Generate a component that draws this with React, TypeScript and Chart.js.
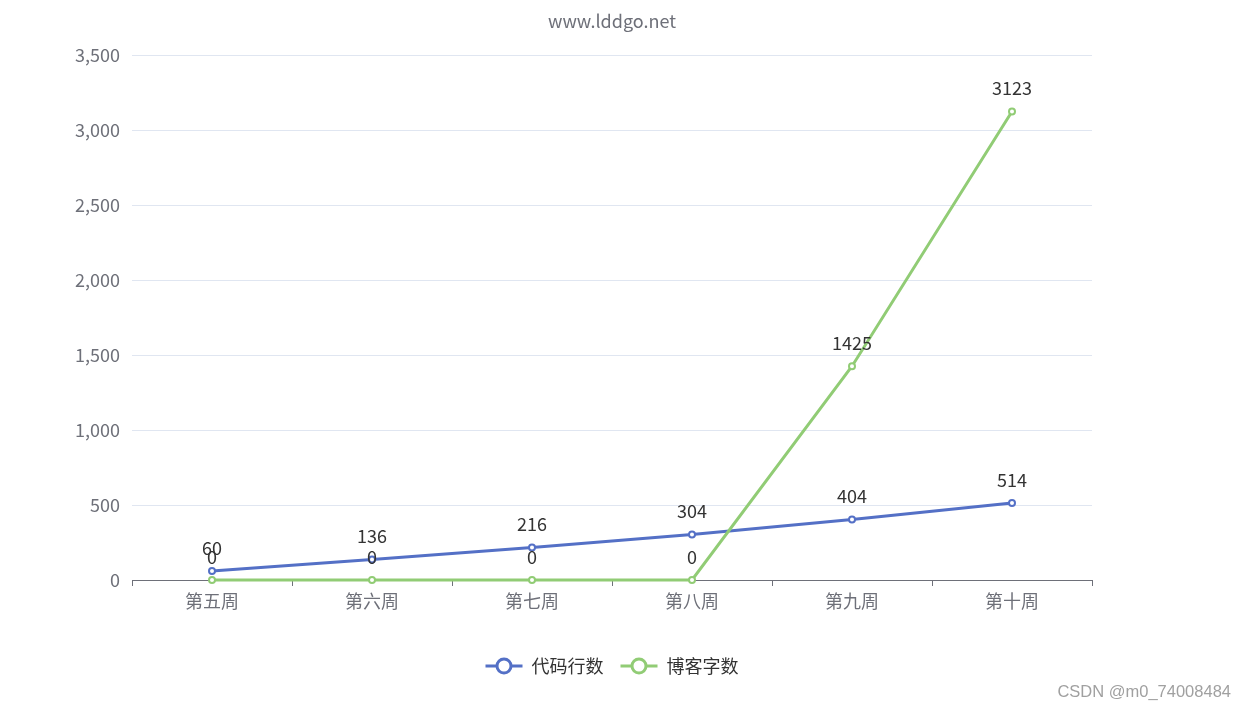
import React, { useEffect, useRef } from 'react';
import { Chart, registerables, Plugin } from 'chart.js';

Chart.register(...registerables);

const weeks = ['第五周', '第六周', '第七周', '第八周', '第九周', '第十周'];
const codeLines = [60, 136, 216, 304, 404, 514];
const blogWords = [0, 0, 0, 0, 1425, 3123];
const yTicks = [0, 500, 1000, 1500, 2000, 2500, 3000, 3500];
const seriesNames = ['代码行数', '博客字数'];
const seriesColors = ['#5470c6', '#91cc75'];
const titleText = 'www.lddgo.net';
const watermarkText = 'CSDN @m0_74008484';

const FONT = "'Noto Sans CJK SC', 'Noto Sans', sans-serif";

// title, point labels, legend and watermark drawn by hand to match the echarts look
const decorPlugin: Plugin<'line'> = {
  id: 'decor',
  afterDatasetsDraw(chart) {
    const ctx = chart.ctx;
    const area = chart.chartArea;
    const midX = (area.left + area.right) / 2;
    ctx.save();

    // value labels above points
    ctx.font = `18px ${FONT}`;
    ctx.fillStyle = '#333';
    ctx.textAlign = 'center';
    ctx.textBaseline = 'middle';
    chart.data.datasets.forEach((ds, i) => {
      const meta = chart.getDatasetMeta(i);
      meta.data.forEach((pt, j) => {
        ctx.fillText(String(ds.data[j]), pt.x, pt.y - 23);
      });
    });

    // title
    ctx.fillStyle = '#6e7079';
    ctx.fillText(titleText, midX, 21);

    // legend
    const iconW = 37;
    const textGap = 9;
    const itemGap = 17;
    const widths = seriesNames.map(n => iconW + textGap + ctx.measureText(n).width);
    const total = widths.reduce((a, b) => a + b, 0) + itemGap * (widths.length - 1);
    let x = midX - total / 2;
    const ly = 666;
    seriesNames.forEach((name, i) => {
      ctx.strokeStyle = seriesColors[i];
      ctx.lineWidth = 3;
      ctx.beginPath();
      ctx.moveTo(x, ly);
      ctx.lineTo(x + iconW, ly);
      ctx.stroke();
      ctx.beginPath();
      ctx.arc(x + iconW / 2, ly, 7, 0, Math.PI * 2);
      ctx.fillStyle = '#fff';
      ctx.fill();
      ctx.stroke();
      ctx.fillStyle = '#333';
      ctx.textAlign = 'left';
      ctx.fillText(name, x + iconW + textGap, ly);
      x += widths[i] + itemGap;
    });

    // watermark
    ctx.font = "16.5px 'Liberation Sans', Arial, sans-serif";
    ctx.fillStyle = '#a0a0a0';
    ctx.textAlign = 'right';
    ctx.fillText(watermarkText, 1231, 692);
    ctx.restore();
  },
};

const App: React.FC = () => {
  const canvasRef = useRef<HTMLCanvasElement | null>(null);

  useEffect(() => {
    if (!canvasRef.current) return;
    const chart = new Chart(canvasRef.current, {
      type: 'line',
      data: {
        labels: weeks,
        datasets: [codeLines, blogWords].map((values, i) => ({
          label: seriesNames[i],
          data: values,
          // second series is painted on top, like echarts does
          order: seriesNames.length - 1 - i,
          borderColor: seriesColors[i],
          backgroundColor: '#fff',
          borderWidth: 3,
          pointRadius: 3,
          pointBorderWidth: 2,
          pointBackgroundColor: '#fff',
          pointBorderColor: seriesColors[i],
          tension: 0,
          clip: false as const,
        })),
      },
      options: {
        animation: false,
        responsive: true,
        maintainAspectRatio: false,
        layout: { padding: { top: 55, right: 154, bottom: 101, left: 0 } },
        plugins: {
          legend: { display: false },
          title: { display: false },
          tooltip: { enabled: false },
        },
        scales: {
          x: {
            offset: true,
            grid: {
              offset: true,
              drawOnChartArea: false,
              drawTicks: true,
              tickLength: 6,
              color: '#6e7079',
            },
            border: { color: '#6e7079', width: 1 },
            ticks: { color: '#6e7079', font: { size: 18, family: FONT }, padding: 4 },
            afterFit: s => { s.height = 30; },
          },
          y: {
            min: 0,
            max: 3500,
            afterBuildTicks: s => { s.ticks = yTicks.map(v => ({ value: v })); },
            grid: { color: '#e0e6f1', drawTicks: false },
            border: { display: false },
            ticks: {
              color: '#6e7079',
              font: { size: 18, family: FONT },
              padding: 12,
              callback: v => Number(v).toLocaleString('en-US'),
            },
            afterFit: s => { s.width = 132; },
          },
        },
      },
      plugins: [decorPlugin],
    });
    return () => chart.destroy();
  }, []);

  return (
    <div style={{ position: 'absolute', left: 0, top: 0, width: 1246, height: 711, background: '#fff' }}>
      <canvas ref={canvasRef}></canvas>
    </div>
  );
};

export default App;
